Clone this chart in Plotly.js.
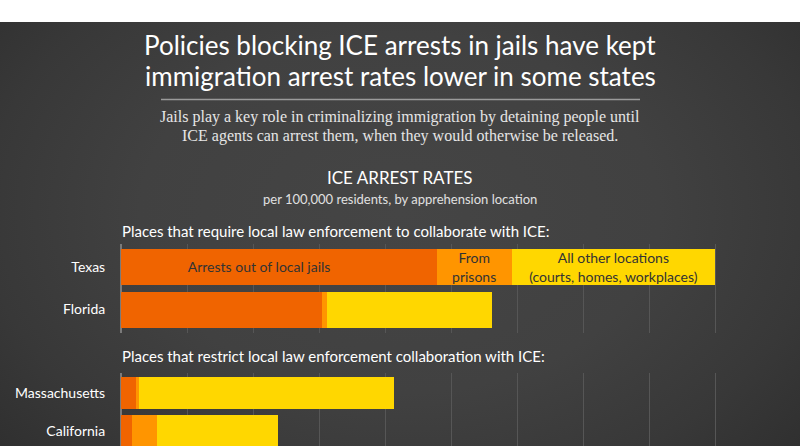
<!DOCTYPE html>
<html>
<head>
<meta charset="utf-8">
<script src="https://cdn.plot.ly/plotly-3.0.1.min.js"></script>
<style>
  html, body { margin: 0; padding: 0; background: #ffffff; }
  #wrap { position: relative; width: 800px; height: 446px; overflow: hidden; background: #ffffff; }
  #bg { position: absolute; left: 0; top: 22px; width: 800px; height: 424px;
        background: radial-gradient(ellipse 65% 85% at 50% 45%, #454545 0%, #414141 50%, #383838 80%, #303030 100%); }
  #chart { position: absolute; left: 0; top: 0; width: 800px; height: 446px; }
</style>
</head>
<body>
<div id="wrap"><div id="bg"></div><div id="chart"></div></div>
<script>
// ---- Data (ICE arrest rates per 100,000 residents) ----
const groupTop = ["Texas", "Florida"];
const groupBottom = ["Massachusetts", "California"];
const jailsTop = [239, 152];
const prisonsTop = [57, 4];
const otherTop = [154, 125];
const jailsBottom = [11, 8];
const prisonsBottom = [3, 19];
const otherBottom = [193, 92];
const jailsText = ["Arrests out of local jails" + "\u00a0".repeat(11), ""];
const prisonsText = ["From<br>prisons", ""];
const otherText = ["All other locations<br>(courts, homes, workplaces)", ""];

const cJails = "#F06400", cPrisons = "#FF9500", cOther = "#FFD700";
const FONT = "Lato, 'Open Sans', sans-serif";
const H = 446;
const py = y => 1 - y / H;

function bar(y, x, color, xa, ya, text, w) {
  return {
    type: "bar", orientation: "h", y: y, x: x, xaxis: xa, yaxis: ya,
    marker: { color: color, line: { width: 0 } }, width: w,
    text: text || null, textposition: text ? "inside" : "none",
    insidetextanchor: "middle", constraintext: "none",
    textfont: { family: FONT, size: 14, color: "#333333" },
    hoverinfo: "skip", showlegend: false, cliponaxis: true
  };
}

const traces = [
  bar(groupTop, jailsTop, cJails, "x", "y", jailsText, 0.847),
  bar(groupTop, prisonsTop, cPrisons, "x", "y", prisonsText, 0.847),
  bar(groupTop, otherTop, cOther, "x", "y", otherText, 0.847),
  bar(groupBottom, jailsBottom, cJails, "x2", "y2", null, 0.837),
  bar(groupBottom, prisonsBottom, cPrisons, "x2", "y2", null, 0.837),
  bar(groupBottom, otherBottom, cOther, "x2", "y2", null, 0.837)
];

const xCommon = {
  range: [0, 484], dtick: 50, tick0: 0, showgrid: true, gridcolor: "#565656", gridwidth: 1,
  zeroline: true, zerolinecolor: "#7a7a7a", zerolinewidth: 2,
  showticklabels: false, ticks: "", showline: false, fixedrange: true
};
const yCommon = {
  type: "category", showgrid: false, zeroline: false, showline: false,
  ticks: "outside", ticklen: 12, tickcolor: "rgba(0,0,0,0)",
  tickfont: { family: FONT, size: 14, color: "#ffffff" }, fixedrange: true
};

function ann(text, x, y, size, opts) {
  return Object.assign({
    text: text, xref: "paper", yref: "paper", x: x / 800, y: py(y),
    xanchor: "center", yanchor: "middle", showarrow: false,
    font: { family: FONT, size: size, color: "#ffffff" }
  }, opts || {});
}

const layout = {
  width: 800, height: 446,
  margin: { l: 0, r: 0, t: 0, b: 0 },
  paper_bgcolor: "rgba(0,0,0,0)", plot_bgcolor: "rgba(0,0,0,0)",
  barmode: "stack", bargap: 0,
  xaxis: Object.assign({}, xCommon, { domain: [121 / 800, 760 / 800], anchor: "y" }),
  yaxis: Object.assign({}, yCommon, { domain: [py(333), py(244)], range: [1.553, -0.541], anchor: "x" }),
  xaxis2: Object.assign({}, xCommon, { domain: [121 / 800, 760 / 800], anchor: "y2" }),
  yaxis2: Object.assign({}, yCommon, { domain: [0, py(372.7)], range: [1.378, -0.521], anchor: "x2" }),
  shapes: [
    { type: "line", xref: "paper", yref: "paper", x0: 161 / 800, x1: 640 / 800, y0: py(99.5), y1: py(99.5),
      line: { color: "#9a9a9a", width: 1.5 } }
  ],
  annotations: [
    ann("Policies blocking ICE arrests in jails have kept", 400, 45, 26),
    ann("immigration arrest rates lower in some states", 400, 76, 26),
    ann("Jails play a key role in criminalizing immigration by detaining people until", 400, 117, 16,
        { font: { family: "'Liberation Serif', 'Times New Roman', serif", size: 16, color: "#e6e6e6" } }),
    ann("ICE agents can arrest them, when they would otherwise be released.", 400, 136, 16,
        { font: { family: "'Liberation Serif', 'Times New Roman', serif", size: 16, color: "#e6e6e6" } }),
    ann("ICE ARREST RATES", 400, 177.5, 17),
    ann("per 100,000 residents, by apprehension location", 400, 199, 13,
        { font: { family: FONT, size: 13, color: "#e0e0e0" } }),
    ann("Places that require local law enforcement to collaborate with ICE:", 120, 231, 15, { xanchor: "left" }),
    ann("Places that restrict local law enforcement collaboration with ICE:", 120, 356, 15, { xanchor: "left" })
  ]
};

Plotly.newPlot("chart", traces, layout, { displayModeBar: false, staticPlot: true });
</script>
</body>
</html>
